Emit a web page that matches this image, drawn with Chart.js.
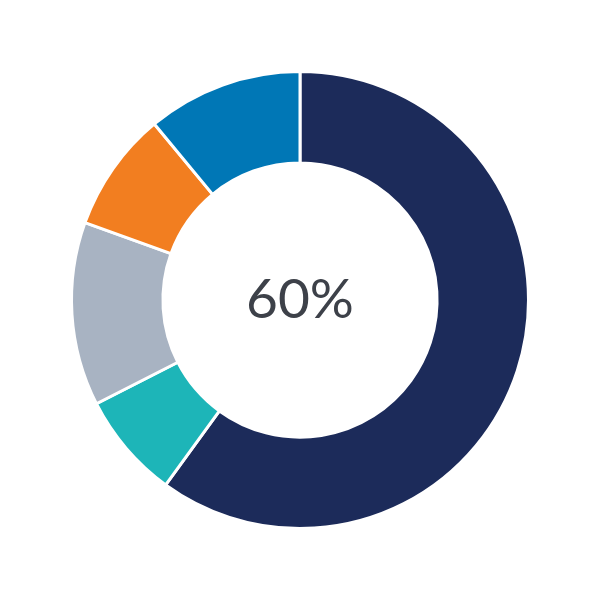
<!DOCTYPE html>
<html>
<head>
<meta charset="utf-8">
<script src="https://cdn.jsdelivr.net/npm/chart.js@4"></script>
<style>
  html, body { margin: 0; padding: 0; background: #fff; }
  #wrap { width: 600px; height: 600px; }
</style>
</head>
<body>
<div id="wrap"><canvas id="donut"></canvas></div>
<script>
// segments, clockwise from 12 o'clock
const labels = ["Navy", "Teal", "Gray", "Orange", "Blue"];
const values = [60, 7.5, 13, 8.5, 11];
const colors = ["#1c2b5a", "#1db5b8", "#a8b3c2", "#f27e20", "#0077b6"];
const centerLabel = "60%";

const centerText = {
  id: "centerText",
  afterDraw(chart) {
    const { ctx } = chart;
    const meta = chart.getDatasetMeta(0).data[0];
    ctx.save();
    ctx.font = "400 55px Lato";
    ctx.fillStyle = "#3d4149";
    ctx.textAlign = "center";
    ctx.textBaseline = "middle";
    ctx.fillText(centerLabel, meta.x, meta.y);
    ctx.restore();
  },
};

new Chart(document.getElementById("donut").getContext("2d"), {
  type: "doughnut",
  data: { labels, datasets: [{ data: values, backgroundColor: colors, borderColor: "#fff", borderWidth: 3 }] },
  options: {
    responsive: true,
    maintainAspectRatio: false,
    animation: false,
    cutout: "60%",
    layout: { padding: 70 },
    plugins: { legend: { display: false }, tooltip: { enabled: false } },
  },
  plugins: [centerText],
});
</script>
</body>
</html>
